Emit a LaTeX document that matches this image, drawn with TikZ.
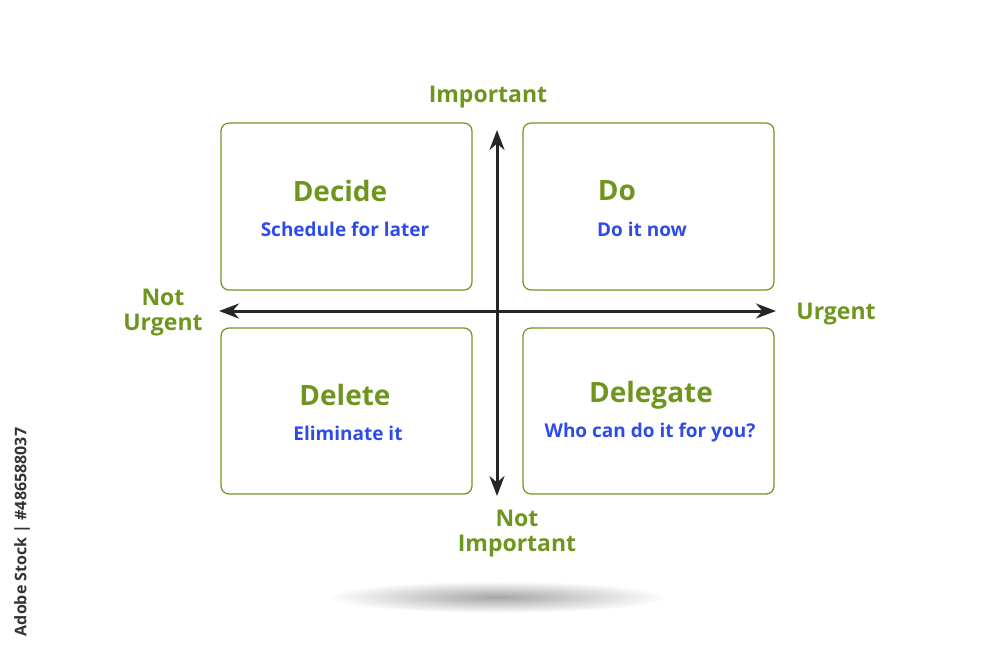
\documentclass[tikz,border=0pt]{standalone}
\usepackage{fontspec}
\setmainfont{Open Sans}
\usetikzlibrary{arrows.meta}
\definecolor{grn}{HTML}{6E961E}
\definecolor{blu}{HTML}{2E4BE8}
\begin{document}
\begin{tikzpicture}[x=1pt,y=-1pt,
 quad/.style={draw=grn,line width=1.2pt,rounded corners=8pt},
 ttl/.style={text=grn,font=\fontsize{28}{30}\selectfont\bfseries},
 sub/.style={text=blu,font=\fontsize{19}{21}\selectfont\bfseries},
 axlab/.style={text=grn,font=\fontsize{23}{25}\selectfont\bfseries,align=center},
 ax/.style={line width=3pt,draw=black!85,-{Stealth[length=20pt,width=15pt]}}]
\useasboundingbox (0,0) rectangle (1000,667);
\shade[inner color=black!35,outer color=white] (497,597) ellipse (170 and 16);
\draw[quad] (221,123) rectangle (472,290);
\draw[quad] (523,123) rectangle (774,290);
\draw[quad] (221,328) rectangle (472,494);
\draw[quad] (523,328) rectangle (774,494);
\node[ttl] (t1) at (340,191) {Decide};
\node[sub] (s1) at (345,229) {Schedule for later};
\node[ttl] (t2) at (617,191) {Do};
\node[sub] (s2) at (642,229) {Do it now};
\node[ttl] (t3) at (345,395) {Delete};
\node[sub] (s3) at (348,433) {Eliminate it};
\node[ttl] (t4) at (651,395) {Delegate};
\node[sub] (s4) at (650,433) {Who can do it for you?};
\coordinate (c) at (497,311);
\coordinate (top) at (497,130);
\coordinate (bot) at (497,496);
\coordinate (lft) at (219,311);
\coordinate (rgt) at (776,311);
\draw[ax] (c) -- (top);
\draw[ax] (c) -- (bot);
\draw[ax] (c) -- (lft);
\draw[ax] (c) -- (rgt);
\node[axlab] (imp) at (488,97) {Important};
\node[axlab] (nimp) at (517,534) {Not\\[0pt]Important};
\node[axlab] (urg) at (836,314) {Urgent};
\node[axlab] (nurg) at (163,313) {Not\\[0pt]Urgent};
\node[rotate=90,text=black!80,font=\fontsize{16}{18}\selectfont\bfseries] (wm) at (22,532) {Adobe Stock | \#486588037};
\end{tikzpicture}
\end{document}
